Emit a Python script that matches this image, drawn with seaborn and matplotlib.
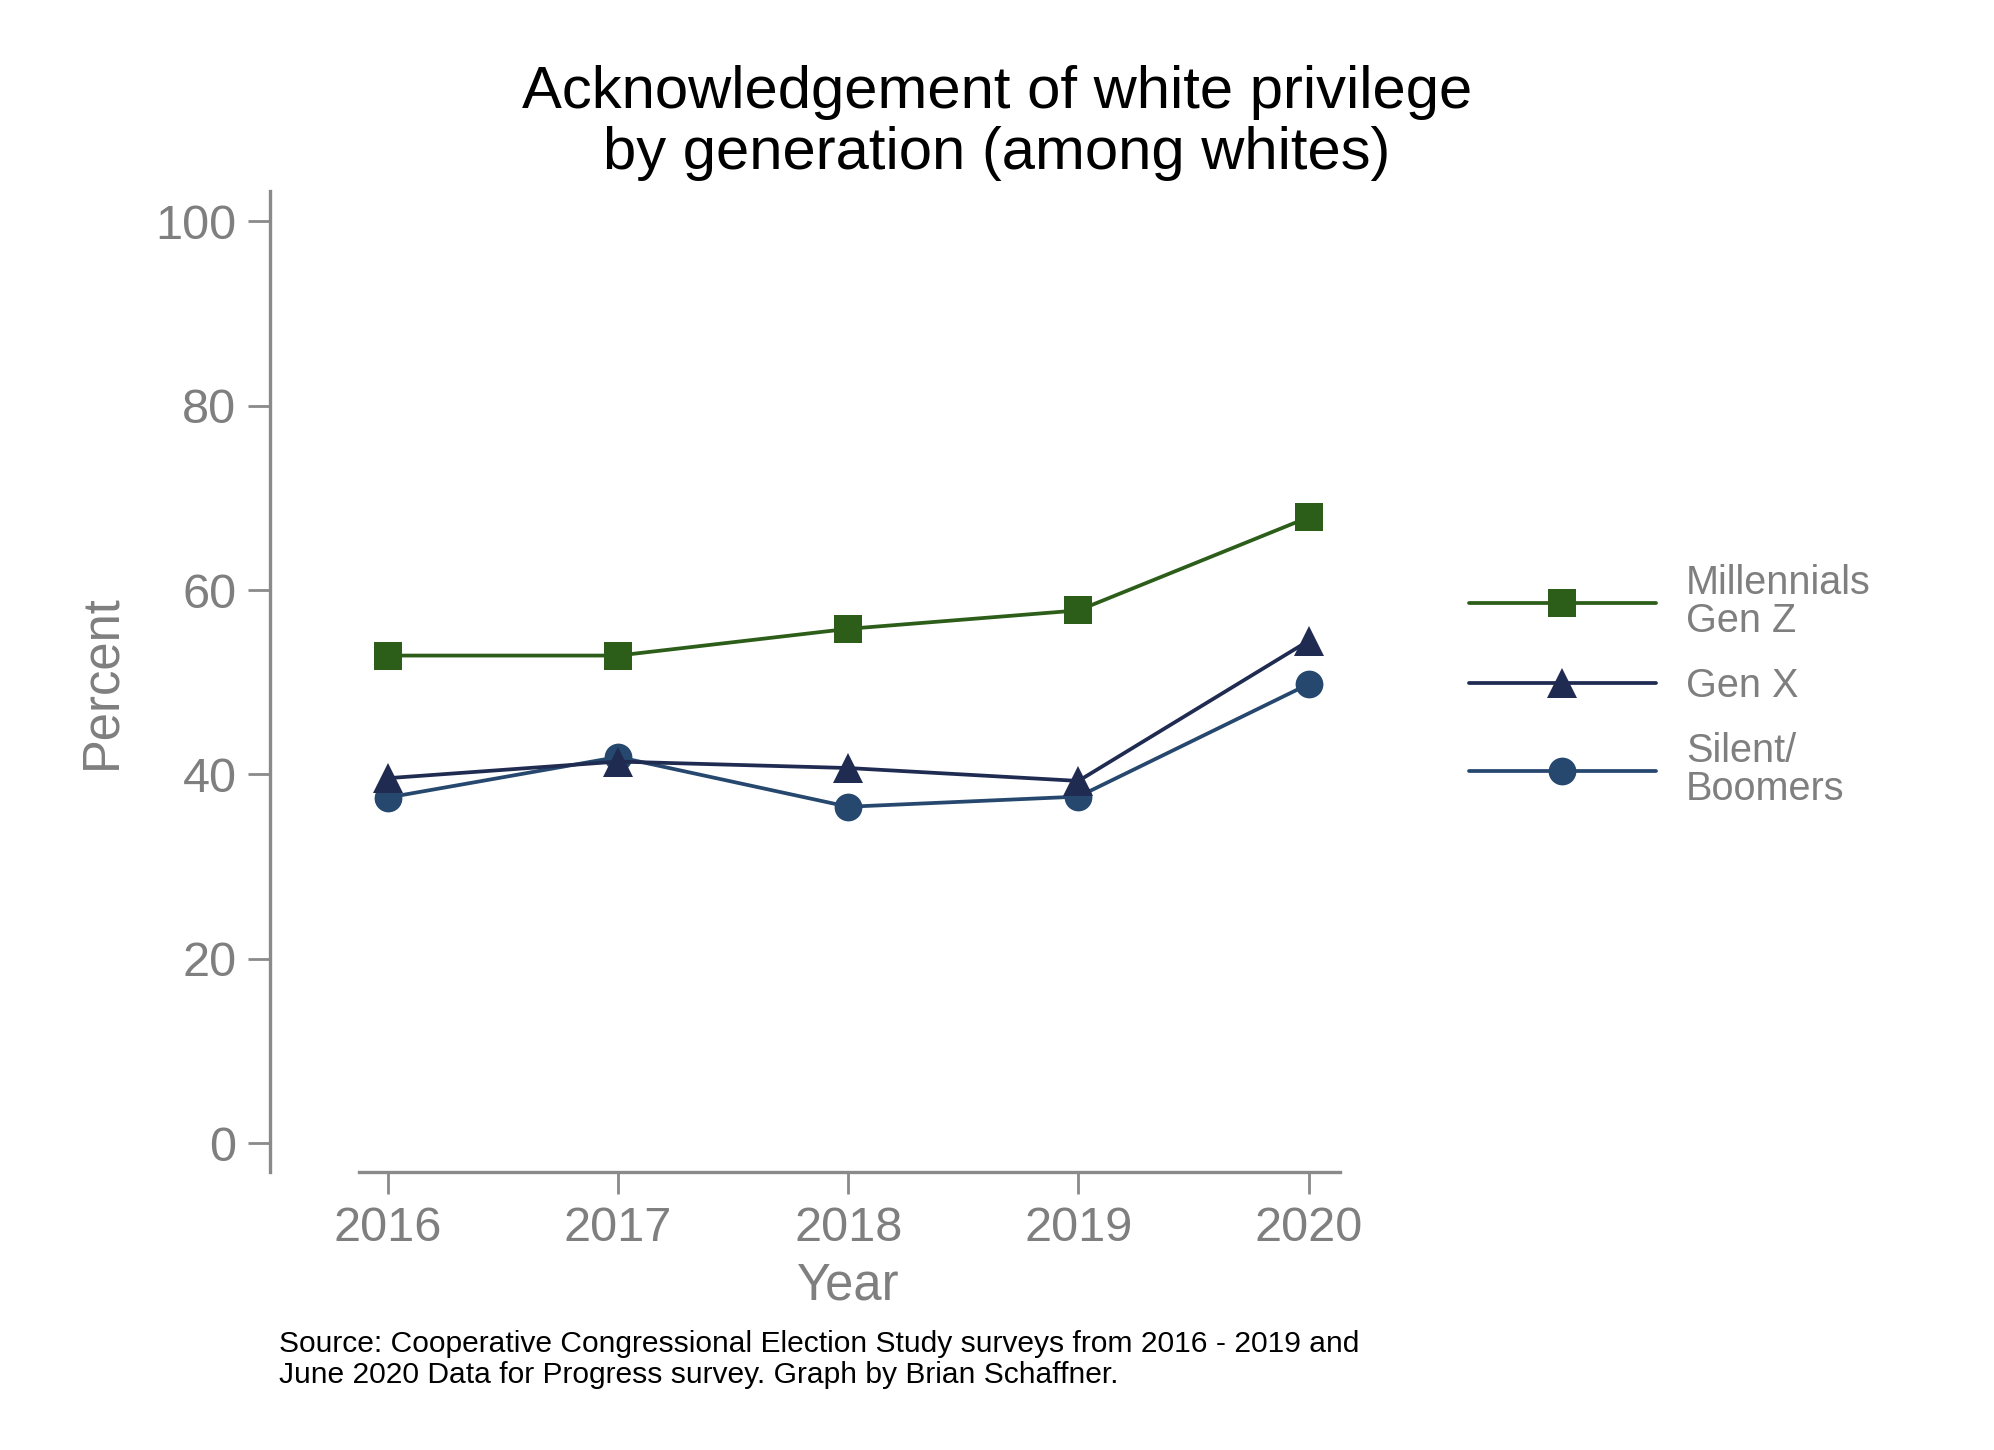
import matplotlib
matplotlib.use("Agg")
import matplotlib.pyplot as plt
from matplotlib.lines import Line2D
import seaborn as sns
import pandas as pd

# ---- data ----
years = [2016, 2017, 2018, 2019, 2020]
millennials = [52.9, 52.9, 55.8, 57.8, 67.9]
gen_x = [39.6, 41.4, 40.7, 39.3, 54.5]
silent = [37.5, 41.9, 36.5, 37.6, 49.8]
series_labels = ["Millennials\nGen Z", "Gen X", "Silent/\nBoomers"]
series_values = [millennials, gen_x, silent]
colors = ["#2C5E1A", "#202B52", "#26486E"]
marker_shapes = ["s", "^", "o"]
y_ticks = [0, 20, 40, 60, 80, 100]
title_lines = ["Acknowledgement of white privilege", "by generation (among whites)"]
x_title = "Year"
y_title = "Percent"
source_lines = ["Source: Cooperative Congressional Election Study surveys from 2016 - 2019 and",
                "June 2020 Data for Progress survey. Graph by Brian Schaffner."]

rows = []
for lab, vals in zip(series_labels, series_values):
    for yr, v in zip(years, vals):
        rows.append({"Year": yr, "Percent": v, "Group": lab})
df = pd.DataFrame(rows)

sns.set_style("white")
plt.rcParams['font.family'] = ['Liberation Sans', 'DejaVu Sans']

GREY = "#7F7F7F"
AXC = "#8A8A8A"
LW = 2.7

W, H = 1994, 1450
fig = plt.figure(figsize=(W / 100, H / 100), dpi=100)
fig.patch.set_facecolor("white")
ax = fig.add_axes([0.1799, 0.1914, 0.4923, 0.6770])

draw_order = [series_labels[2], series_labels[0], series_labels[1]]
pal = dict(zip(series_labels, colors))
mk = dict(zip(series_labels, marker_shapes))
sns.lineplot(data=df, x="Year", y="Percent", hue="Group", style="Group",
             hue_order=draw_order, style_order=draw_order,
             palette=pal, markers=mk, dashes=False, linewidth=LW,
             markersize=20, markeredgewidth=0, ax=ax, legend=False)
for ln in ax.lines:
    if ln.get_marker() == "^":
        ln.set_markersize(22)

ax.set_xlim(2015.873, 2020.138)
ax.set_ylim(-3.17, 103.31)
ax.set_xticks(years)
ax.set_yticks(y_ticks)
ax.set_xlabel("")
ax.set_ylabel("")
ax.tick_params(axis="both", which="major", direction="out", length=16, width=2,
               color=AXC, labelcolor=GREY, labelsize=35, pad=8,
               bottom=True, left=True)
for s in ["top", "right"]:
    ax.spines[s].set_visible(False)
for s in ["left", "bottom"]:
    ax.spines[s].set_color(AXC)
    ax.spines[s].set_linewidth(2.4)
ax.spines["left"].set_position(("outward", 64))
ax.grid(False)

# titles
fig.text(0.5, 1 - 108 / H, title_lines[0], ha="center", va="baseline", fontsize=43, color="black")
fig.text(0.5, 1 - 169 / H, title_lines[1], ha="center", va="baseline", fontsize=43, color="black")
fig.text(848 / W, 1 - 1300 / H, x_title, ha="center", va="baseline", fontsize=36.5, color=GREY)
fig.text(102 / W, 1 - 682 / H, y_title, ha="center", va="center", rotation=90, fontsize=36.5, color=GREY)
fig.text(278.5 / W, 1 - 1352 / H, source_lines[0], ha="left", va="baseline", fontsize=21.6, color="black")
fig.text(278.5 / W, 1 - 1383 / H, source_lines[1], ha="left", va="baseline", fontsize=21.6, color="black")

# legend
handles = []
for lab, c, m in zip(series_labels, colors, marker_shapes):
    handles.append(Line2D([], [], color=c, linewidth=LW, marker=m,
                          markersize=22 if m == "^" else 20, markeredgewidth=0))
leg = fig.legend(handles, series_labels, loc="center left",
                 bbox_to_anchor=(1469 / W, 1 - 686 / H), frameon=False,
                 fontsize=28.5, handlelength=4.72, handletextpad=0.76,
                 labelspacing=0.67, borderpad=0, borderaxespad=0)
for t in leg.get_texts():
    t.set_color(GREY)
    t.set_linespacing(1.03)

fig.savefig("out.png", dpi=100, facecolor="white")
